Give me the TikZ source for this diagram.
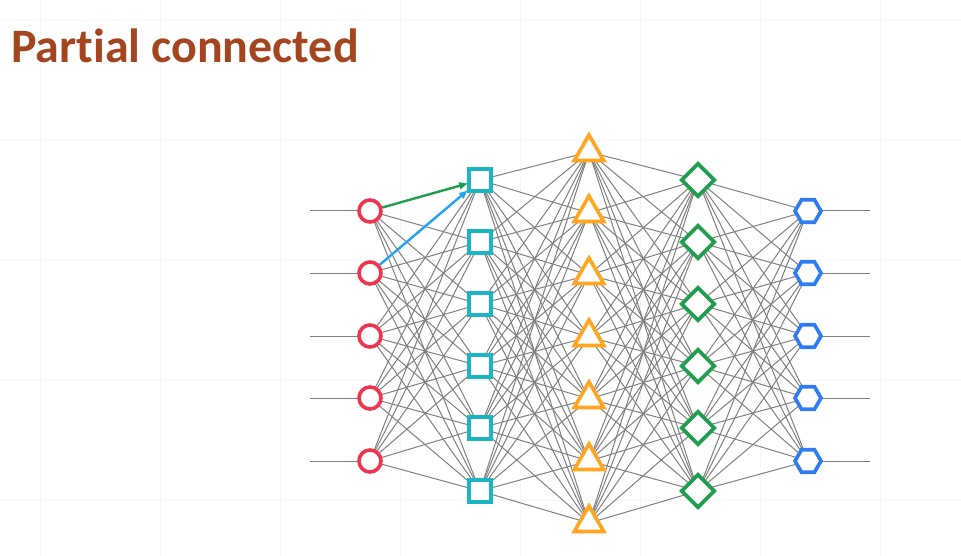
\documentclass[tikz,border=0pt]{standalone}
\usepackage{fontspec}
\setmainfont[Ligatures=NoCommon]{Carlito}
\usetikzlibrary{shapes.geometric,arrows.meta}
\definecolor{cred}{HTML}{F0344F}
\definecolor{ccyan}{HTML}{1BB5C3}
\definecolor{corange}{HTML}{FFA51F}
\definecolor{cgreen}{HTML}{1E9E4E}
\definecolor{cblue}{HTML}{2F7BF2}
\definecolor{ctitle}{HTML}{A3451F}
\definecolor{cedge}{HTML}{7F7F7F}
\tikzset{
 base/.style={fill=white,line width=3.6pt,inner sep=0pt},
 cnode/.style={base,draw=cred,circle,minimum size=22pt},
 snode/.style={base,draw=ccyan,rectangle,minimum size=22pt},
 tnode/.style={base,draw=corange,regular polygon,regular polygon sides=3,minimum size=34pt},
 dnode/.style={base,draw=cgreen,diamond,minimum size=34pt},
 hnode/.style={base,draw=cblue,regular polygon,regular polygon sides=6,minimum size=26pt},
 edge/.style={draw=cedge,line width=1pt},
}
\begin{document}
\begin{tikzpicture}[x=1pt,y=-1pt]
\useasboundingbox[fill=white] (0,0) rectangle (961,556);
\foreach \x in {40,160,280,400,520,640,760,880}{\draw[black!4] (\x,0)--(\x,556);}
\foreach \y in {20,140,260,380,500}{\draw[black!4] (0,\y)--(961,\y);}
\node[anchor=base west,text=ctitle,inner sep=0pt,font=\bfseries\fontsize{48}{56}\selectfont] (title) at (11,63) {Partial connected};
% coordinates
\foreach \i/\y in {1/211,2/273,3/336,4/398,5/461}{
  \coordinate (c\i) at (370,\y); \coordinate (h\i) at (808,\y);
  \coordinate (in\i) at (310,\y); \coordinate (out\i) at (870,\y);}
\foreach \i/\y in {1/180,2/242,3/304,4/366,5/428,6/491}{
  \coordinate (s\i) at (480,\y); \coordinate (d\i) at (698,\y);}
\foreach \i/\y in {1/152,2/213,3/275,4/337,5/399,6/461,7/523}{
  \coordinate (t\i) at (589,\y);}
% edges
\foreach \i in {1,...,5}{
  \draw[edge] (in\i)--(c\i); \draw[edge] (h\i)--(out\i);
  \foreach \j in {1,...,6}{\draw[edge] (c\i)--(s\j); \draw[edge] (d\j)--(h\i);}}
\foreach \i in {1,...,6}{\foreach \j in {1,...,7}{\draw[edge] (s\i)--(t\j); \draw[edge] (t\j)--(d\i);}}
% nodes
\foreach \i in {1,...,5}{\node[cnode] (C\i) at (c\i) {}; \node[hnode] (H\i) at (h\i) {};}
\foreach \i in {1,...,6}{\node[snode] (S\i) at (s\i) {}; \node[dnode] (D\i) at (d\i) {};}
\foreach \i in {1,...,7}{\node[tnode] (T\i) at (t\i) {};}
\draw[cgreen,line width=2.4pt,-{Triangle[length=8pt,width=7pt]}] (C1) -- (S1);
\draw[cblue!70!cyan,line width=2.4pt,-{Triangle[length=8pt,width=7pt]}] (C2) -- (S1);
\end{tikzpicture}
\end{document}
